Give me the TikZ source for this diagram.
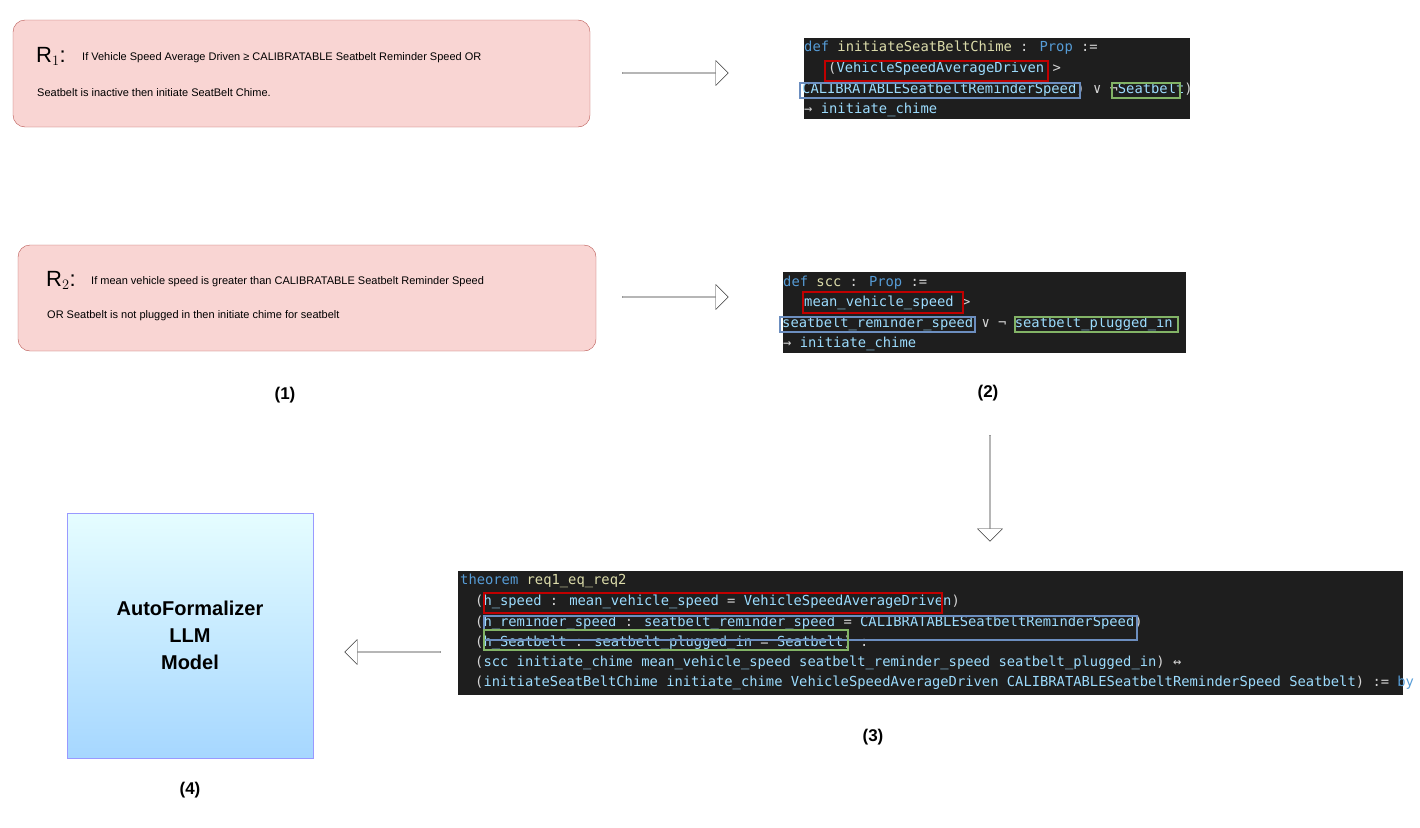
\documentclass[tikz,border=0pt]{standalone}
\usepackage{fontspec}
\setmainfont{Liberation Sans}
\newfontfamily\codefont{DejaVu Sans Mono}
\usetikzlibrary{shapes.arrows}
\definecolor{reqfill}{HTML}{F9D5D3}
\definecolor{reqdraw}{HTML}{B85450}
\definecolor{codebg}{HTML}{1E1E1E}
\definecolor{kw}{HTML}{569CD6}
\definecolor{fn}{HTML}{DCDCAA}
\definecolor{var}{HTML}{9CDCFE}
\definecolor{txt}{HTML}{D4D4D4}
\definecolor{hred}{HTML}{C00000}
\definecolor{hblue}{HTML}{6C8EBF}
\definecolor{hgreen}{HTML}{82B366}
\tikzset{
  req/.style={draw=reqdraw, fill=reqfill, rounded corners=12pt},
  code/.style={fill=codebg, draw=none},
  cl/.style={anchor=west, inner sep=0pt, text=var, font=\codefont\fontsize{13.8}{16}\selectfont},
  small/.style={anchor=west, inner sep=0pt, font=\fontsize{11}{13}\selectfont},
  tag/.style={font=\bfseries\fontsize{17}{20}\selectfont},
  harrow/.style={single arrow, draw=black!80, fill=white, minimum height=106pt,
    minimum width=25pt, single arrow head extend=5pt, inner sep=0pt},
  hl/.style={line width=2pt}
}
\begin{document}
\begin{tikzpicture}[x=1pt,y=-1pt]
    \useasboundingbox (0,0) rectangle (1420,827);

    % requirements
    \draw[req] (13,20) rectangle (590,127);
    \node[small, font=\fontsize{22}{24}\selectfont] (r1) at (36,56) {R$_1$:};
    \node[small] (r1a) at (82,58) {If Vehicle Speed Average Driven ≥ CALIBRATABLE Seatbelt Reminder Speed OR};
    \node[small] (r1b) at (37,93) {Seatbelt is inactive then initiate SeatBelt Chime.};

    \draw[req] (18,245) rectangle (596,351);
    \node[small, font=\fontsize{22}{24}\selectfont] (r2) at (46,280) {R$_2$:};
    \node[small] (r2a) at (91,282) {If mean vehicle speed is greater than CALIBRATABLE Seatbelt Reminder Speed};
    \node[small] (r2b) at (47,316) {OR Seatbelt is not plugged in then initiate chime for seatbelt};

    % code 1
    \fill[code] (804,38) rectangle (1190,119);
    \node[cl] (c1a) at (804,48) {\textcolor{kw}{def} \textcolor{fn}{initiateSeatBeltChime} \textcolor{txt}{:} \textcolor{kw}{Prop} \textcolor{txt}{:=}};
    \node[cl] (c1b) at (828,69) {\textcolor{txt}{(}VehicleSpeedAverageDriven \textcolor{txt}{>}};
    \node[cl] (c1c) at (802,90) {CALIBRATABLESeatbeltReminderSpeed\textcolor{txt}{) ∨ ¬}Seatbelt\textcolor{txt}{)}};
    \node[cl] (c1d) at (804,110) {\textcolor{txt}{→} initiate\_chime};
    \draw[hl, hred] (825,61) rectangle (1048,81);
    \draw[hl, hblue] (800,83) rectangle (1080,98);
    \draw[hl, hgreen] (1112,83) rectangle (1180,98);

    % code 2
    \fill[code] (783,272) rectangle (1186,353);
    \node[cl] (c2a) at (783,283) {\textcolor{kw}{def} \textcolor{fn}{scc} \textcolor{txt}{:} \textcolor{kw}{Prop} \textcolor{txt}{:=}};
    \node[cl] (c2b) at (804,303) {mean\_vehicle\_speed \textcolor{txt}{>}};
    \node[cl] (c2c) at (782,324) {seatbelt\_reminder\_speed \textcolor{txt}{∨ ¬} seatbelt\_plugged\_in};
    \node[cl] (c2d) at (783,344) {\textcolor{txt}{→} initiate\_chime};
    \draw[hl, hred] (803,292) rectangle (963,313);
    \draw[hl, hblue] (780,317) rectangle (975,332);
    \draw[hl, hgreen] (1015,317) rectangle (1178,332);

    % code 3
    \fill[code] (458,571) rectangle (1403,695);
    \node[cl] (c3a) at (460,581) {\textcolor{kw}{theorem} \textcolor{fn}{req1\_eq\_req2}};
    \node[cl] (c3b) at (475,602) {\textcolor{txt}{(}h\_speed \textcolor{txt}{:} mean\_vehicle\_speed \textcolor{txt}{=} VehicleSpeedAverageDriven\textcolor{txt}{)}};
    \node[cl] (c3c) at (475,623) {\textcolor{txt}{(}h\_reminder\_speed \textcolor{txt}{:} seatbelt\_reminder\_speed \textcolor{txt}{=} CALIBRATABLESeatbeltReminderSpeed\textcolor{txt}{)}};
    \node[cl] (c3d) at (475,643) {\textcolor{txt}{(}h\_Seatbelt \textcolor{txt}{:} seatbelt\_plugged\_in \textcolor{txt}{=} Seatbelt\textcolor{txt}{) :}};
    \node[cl] (c3e) at (475,663) {\textcolor{txt}{(}scc initiate\_chime mean\_vehicle\_speed seatbelt\_reminder\_speed seatbelt\_plugged\_in\textcolor{txt}{) ↔}};
    \node[cl] (c3f) at (475,683) {\textcolor{txt}{(}initiateSeatBeltChime initiate\_chime VehicleSpeedAverageDriven CALIBRATABLESeatbeltReminderSpeed Seatbelt\textcolor{txt}{) :=} \textcolor{kw}{by}};
    \draw[hl, hred] (484,593) rectangle (942,613);
    \draw[hl, hblue] (484,616) rectangle (1137,640);
    \draw[hl, hgreen] (484,630) rectangle (848,650);

    % model
    \shade[top color=blue!8!cyan!10, bottom color=blue!45!cyan!35, draw=blue!40]
        (67,513) rectangle (313,758);
    \node[align=center, font=\bfseries\fontsize{20}{27}\selectfont] (llm) at (190,635)
        {AutoFormalizer\\LLM\\Model};

    % arrows
    \node[harrow] (a1) at (675,73) {};
    \node[harrow] (a2) at (675,297) {};
    \node[harrow, rotate=-90] (a3) at (990,488) {};
    \node[harrow, rotate=180, minimum height=96pt] (a4) at (393,652) {};

    % tags
    \node[tag] (t1) at (285,395) {(1)};
    \node[tag] (t2) at (988,393) {(2)};
    \node[tag] (t3) at (873,737) {(3)};
    \node[tag] (t4) at (190,790) {(4)};
\end{tikzpicture}
\end{document}
